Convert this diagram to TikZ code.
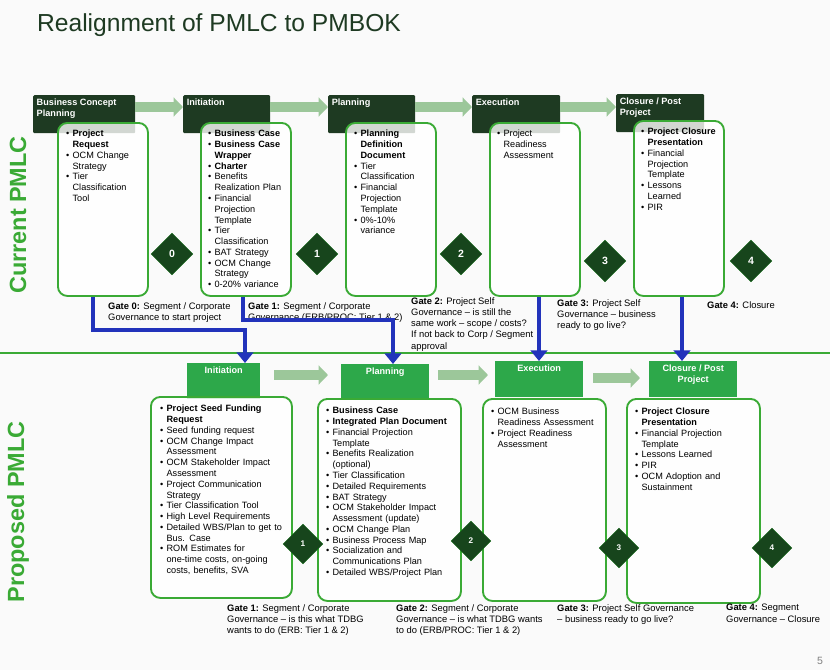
\documentclass[tikz,border=0pt]{standalone}
\usepackage{fontspec}
\setmainfont{Liberation Sans}
\usetikzlibrary{shapes.geometric,arrows.meta}
\definecolor{hdark}{HTML}{1E3A22}
\definecolor{pgreen}{HTML}{3AAA35}
\definecolor{hgreen}{HTML}{2DA84A}
\definecolor{agreen}{HTML}{9CC79A}
\definecolor{gblue}{HTML}{2233BB}
\definecolor{ddark}{HTML}{17451C}
\newcommand\itm[1]{\hangindent=0.7em\hangafter=1\noindent\makebox[0.7em][l]{\textbullet}#1\par}
\newcommand\smalltext{\fontsize{7.8}{9.2}\selectfont\hyphenpenalty=10000\exhyphenpenalty=10000}
\newcommand\gatetext{\fontsize{8}{9.6}\selectfont}
\begin{document}
\begin{tikzpicture}[x=0.03cm,y=-0.03cm,
	chead/.style={fill=hdark,rounded corners=1pt,anchor=north west,minimum width=#1*0.03cm,minimum height=38*0.03cm,inner sep=0pt},
	phead/.style={fill=hgreen,anchor=north west,minimum width=#1*0.03cm,minimum height=36*0.03cm,inner sep=0pt},
	hlabel/.style={anchor=north west,text=white,font=\bfseries\smalltext,align=left,inner sep=3pt},
	box/.style={draw=pgreen,line width=1.6pt,rounded corners=8pt,fill=white,fill opacity=0.8,anchor=north west,inner sep=0pt},
	items/.style={anchor=north west,font=\smalltext,text width=#1*0.03cm,align=left,inner sep=0pt},
	gate/.style={diamond,fill=ddark,draw=ddark!80!green,minimum size=42*0.03cm,inner sep=0pt,text=white,font=\bfseries\small},
	pgate/.style={gate,minimum size=40*0.03cm,font=\bfseries\scriptsize},
	gtext/.style={anchor=north west,font=\gatetext,align=left,inner sep=0pt},
	stepArrow/.style={-{Triangle[length=8pt,width=16pt]},agreen,line width=9pt},
	flow/.style={gblue,line width=3pt,-{Triangle[length=9pt,width=14pt]}}]
	\fill[white!96!gray] (0,0) rectangle (830,670);
	\useasboundingbox (0,0) rectangle (830,670);

	% Title and row labels
	\node[anchor=west,text=hdark,font=\fontsize{21}{25}\selectfont] (title) at (33,25) {Realignment of PMLC to PMBOK};
	\node[rotate=90,text=pgreen,font=\bfseries\fontsize{20}{24}\selectfont] (cur) at (18,215) {Current PMLC};
	\node[rotate=90,text=pgreen,font=\bfseries\fontsize{20}{24}\selectfont] (prop) at (18,512) {Proposed PMLC};
	\draw[pgreen,line width=1.2pt] (0,353) -- (830,353);
	\node[font=\small,text=gray] (page) at (820,661) {5};

	% Current headers
	\node[chead=102,label={[hlabel]north west:Business Concept\\Planning}] (ch0) at (33,95) {};
	\node[chead=87,label={[hlabel]north west:Initiation}] (ch1) at (183,95) {};
	\node[chead=87,label={[hlabel]north west:Planning}] (ch2) at (328,95) {};
	\node[chead=88,label={[hlabel]north west:Execution}] (ch3) at (472,95) {};
	\node[chead=88,label={[hlabel]north west:Closure / Post\\Project}] (ch4) at (616,94) {};
	\draw[stepArrow] (ch0.east|-0,107) -- (ch1.west|-0,107);
	\draw[stepArrow] (ch1.east|-0,107) -- (ch2.west|-0,107);
	\draw[stepArrow] (ch2.east|-0,107) -- (ch3.west|-0,107);
	\draw[stepArrow] (ch3.east|-0,107) -- (ch4.west|-0,107);

	% Current boxes
	\node[box,minimum width=90*0.03cm,minimum height=173*0.03cm] (cb0) at (57,122) {};
	\node[box,minimum width=90*0.03cm,minimum height=173*0.03cm] (cb1) at (200,122) {};
	\node[box,minimum width=90*0.03cm,minimum height=173*0.03cm] (cb2) at (345,122) {};
	\node[box,minimum width=90*0.03cm,minimum height=173*0.03cm] (cb3) at (489,122) {};
	\node[box,minimum width=90*0.03cm,minimum height=175*0.03cm] (cb4) at (633,120) {};
	\node[items=76] (ci0) at (66,130) {\itm{\textbf{Project Request}}\itm{OCM Change Strategy}\itm{Tier Classification Tool}};
	\node[items=78] (ci1) at (208,130) {\itm{\textbf{Business Case}}\itm{\textbf{Business Case Wrapper}}\itm{\textbf{Charter}}\itm{Benefits Realization Plan}\itm{Financial Projection Template}\itm{Tier Classification}\itm{BAT Strategy}\itm{OCM Change Strategy}\itm{0-20\% variance}};
	\node[items=76] (ci2) at (354,130) {\itm{\textbf{Planning Definition Document}}\itm{Tier Classification}\itm{Financial Projection Template}\itm{0\%-10\% variance}};
	\node[items=76] (ci3) at (497,130) {\itm{Project Readiness Assessment}};
	\node[items=76] (ci4) at (641,128) {\itm{\textbf{Project Closure Presentation}}\itm{Financial Projection Template}\itm{Lessons Learned}\itm{PIR}};

	% Current gates
	\node[gate] (cg0) at (172,254) {0};
	\node[gate] (cg1) at (317,254) {1};
	\node[gate] (cg2) at (461,254) {2};
	\node[gate] (cg3) at (605,261) {3};
	\node[gate] (cg4) at (751,261) {4};
	\node[gtext] (ct0) at (108,302) {\textbf{Gate 0:} Segment / Corporate\\Governance to start project};
	\node[gtext] (ct1) at (248,302) {\textbf{Gate 1:} Segment / Corporate\\Governance (ERB/PROC: Tier 1 \& 2)};
	\node[gtext] (ct2) at (411,297) {\textbf{Gate 2:} Project Self\\Governance -- is still the\\same work -- scope / costs?\\If not back to Corp / Segment\\approval};
	\node[gtext] (ct3) at (557,299) {\textbf{Gate 3:} Project Self\\Governance -- business\\ready to go live?};
	\node[gtext] (ct4) at (707,301) {\textbf{Gate 4:} Closure};

	% Proposed headers
	\node[phead=73,label={[hlabel,anchor=north]north:Initiation}] (ph1) at (187,363) {};
	\node[phead=88,label={[hlabel,anchor=north]north:Planning}] (ph2) at (341,364) {};
	\node[phead=88,label={[hlabel,anchor=north]north:Execution}] (ph3) at (495,361) {};
	\node[phead=88,label={[hlabel,anchor=north,align=center]north:Closure / Post\\Project}] (ph4) at (649,361) {};
	\draw[stepArrow] (274,375) -- (328,375);
	\draw[stepArrow] (438,375) -- (488,375);
	\draw[stepArrow] (593,378) -- (640,378);

	% Governance flow
	\draw[flow] (cb0.south -| 93,0) -- (93,330) -| (ph1.north -| 245,0);
	\draw[flow] (cb1.south -| 243,0) -- (243,320) -| (ph2.north -| 393,0);
	\draw[flow] (cb3.south -| 539,0) -- (ph3.north -| 539,0);
	\draw[flow] (cb4.south -| 682,0) -- (ph4.north -| 682,0);

	% Proposed boxes
	\node[box,minimum width=141*0.03cm,minimum height=201*0.03cm] (pb1) at (150,396) {};
	\node[box,minimum width=143*0.03cm,minimum height=202*0.03cm] (pb2) at (317,398) {};
	\node[box,minimum width=123*0.03cm,minimum height=202*0.03cm] (pb3) at (482,398) {};
	\node[box,minimum width=133*0.03cm,minimum height=204*0.03cm] (pb4) at (626,398) {};
	\node[items=122] (pi1) at (160,405) {\itm{\textbf{Project Seed Funding Request}}\itm{Seed funding request}\itm{OCM Change Impact Assessment}\itm{OCM Stakeholder Impact Assessment}\itm{Project Communication Strategy}\itm{Tier Classification Tool}\itm{High Level Requirements}\itm{Detailed WBS/Plan to get to Bus. Case}\itm{ROM Estimates for one-time costs, on-going costs, benefits, SVA}};
	\node[items=122] (pi2) at (326,407) {\itm{\textbf{Business Case}}\itm{\textbf{Integrated Plan Document}}\itm{Financial Projection Template}\itm{Benefits Realization (optional)}\itm{Tier Classification}\itm{Detailed Requirements}\itm{BAT Strategy}\itm{OCM Stakeholder Impact Assessment (update)}\itm{OCM Change Plan}\itm{Business Process Map}\itm{Socialization and Communications Plan}\itm{Detailed WBS/Project Plan}};
	\node[items=108] (pi3) at (491,408) {\itm{OCM Business Readiness Assessment}\itm{Project Readiness Assessment}};
	\node[items=104] (pi4) at (635,408) {\itm{\textbf{Project Closure Presentation}}\itm{Financial Projection Template}\itm{Lessons Learned}\itm{PIR}\itm{OCM Adoption and Sustainment}};

	% Proposed gates
	\node[pgate] (pg1) at (303,544) {1};
	\node[pgate] (pg2) at (471,541) {2};
	\node[pgate] (pg3) at (619,548) {3};
	\node[pgate] (pg4) at (772,548) {4};
	\node[gtext] (pt1) at (227,604) {\textbf{Gate 1:} Segment / Corporate\\Governance -- is this what TDBG\\wants to do (ERB: Tier 1 \& 2)};
	\node[gtext] (pt2) at (396,604) {\textbf{Gate 2:} Segment / Corporate\\Governance -- is what TDBG wants\\to do (ERB/PROC: Tier 1 \& 2)};
	\node[gtext] (pt3) at (557,604) {\textbf{Gate 3:} Project Self Governance\\-- business ready to go live?};
	\node[gtext] (pt4) at (726,604) {\textbf{Gate 4:} Segment\\Governance -- Closure};
\end{tikzpicture}
\end{document}
